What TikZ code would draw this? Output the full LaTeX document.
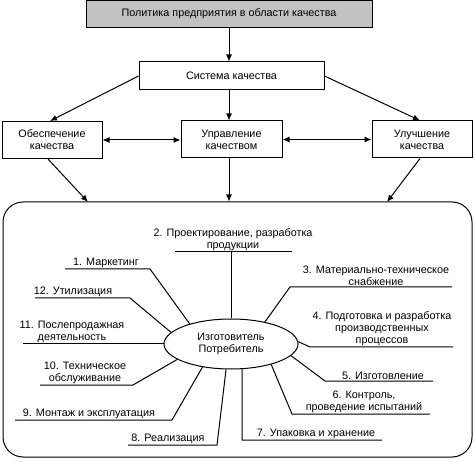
\documentclass[tikz,border=0pt]{standalone}
\usepackage{fontspec}
\setmainfont{Liberation Sans}
\usetikzlibrary{arrows.meta,shapes.geometric}
\begin{document}
\begin{tikzpicture}[x=1pt,y=-1pt, font=\fontsize{10.8}{12}\selectfont,
 box/.style={draw, line width=1pt, inner sep=0pt, align=center},
 arr/.style={-{Latex[length=7pt,width=6pt]}, line width=1pt},
 darr/.style={{Latex[length=7pt,width=6pt]}-{Latex[length=7pt,width=6pt]}, line width=1pt},
 spoke/.style={line width=1pt},
 lbl/.style={align=center, anchor=south, inner sep=1.5pt}]
\useasboundingbox (0,0) rectangle (474,462);
% top part
\node[box, fill=black!24, minimum width=286pt, minimum height=27pt] (P) at (229,14) {Политика предприятия в области качества};
\node[box, minimum width=185pt, minimum height=28pt] (S) at (231.5,76) {Система качества};
\node[box, minimum width=100pt, minimum height=37pt] (O) at (52,140) {Обеспечение\\качества};
\node[box, minimum width=101pt, minimum height=37pt] (U) at (231.5,139.5) {Управление\\качеством};
\node[box, minimum width=100pt, minimum height=37pt] (R) at (422,139.5) {Улучшение\\качества};
% frame and ellipse
\node[draw, rounded corners=20pt, minimum width=469pt, minimum height=255pt, line width=1pt] (F) at (237.5,329.5) {};
\node[draw, ellipse, minimum width=134pt, minimum height=50pt, inner sep=0pt, align=center, line width=1pt] (E) at (231,344) {Изготовитель\\Потребитель};
\coordinate (f1) at (88,202);
\coordinate (f3) at (387,202);
% arrows
\draw[arr] (P.south) -- (P.south |- S.north);
\draw[arr] (S.west) -- ([xshift=-2pt]O.north);
\draw[arr] (S.east) -- ([xshift=-2pt]R.north);
\draw[arr] (P.south |- S.south) -- (P.south |- U.north);
\draw[darr] (O.east) -- (O.east -| U.west);
\draw[darr] (U.east) -- (U.east -| R.west);
\draw[arr] ([xshift=-4pt]O.south) -- (f1);
\draw[arr] (P.south |- U.south) -- (P.south |- F.north);
\draw[arr] ([xshift=-2pt]R.south) -- (f3);
% spokes
\coordinate (a1) at (65,269); \coordinate (b1) at (150,269);
\draw[spoke] (a1) -- (b1) -- (E.154);
\node[lbl] (t1) at (106,269) {1. Маркетинг};
\coordinate (a2) at (175,252); \coordinate (b2) at (292,252);
\draw[spoke] (a2) -- (b2);
\draw[spoke] (E.north) -- (E.north |- a2);
\node[lbl] (t2) at (233,252) {2. Проектирование, разработка\\продукции};
\coordinate (a3) at (290,287); \coordinate (b3) at (452,287);
\draw[spoke] (E.33) -- (a3) -- (b3);
\node[lbl] (t3) at (376,287) {3. Материально-техническое\\снабжение};
\coordinate (a4) at (310,347); \coordinate (b4) at (453,347);
\draw[spoke] (E.2) -- (a4) -- (b4);
\node[lbl] (t4) at (382,347) {4. Подготовка и разработка\\производственных\\процессов};
\coordinate (a5) at (325,381); \coordinate (b5) at (433,381);
\draw[spoke] (E.-11) -- (a5) -- (b5);
\node[lbl] (t5) at (383,381) {5. Изготовление};
\coordinate (a6) at (292,414); \coordinate (b6) at (430,414);
\draw[spoke] (E.-27.5) -- (a6) -- (b6);
\node[lbl] (t6) at (364,414) {6. Контроль,\\проведение испытаний};
\coordinate (a7) at (242,440); \coordinate (b7) at (382,440);
\draw[spoke] (E.-66) -- (a7) -- (b7);
\node[lbl] (t7) at (316,440) {7. Упаковка и хранение};
\coordinate (a8) at (128,445); \coordinate (b8) at (217,445);
\draw[spoke] (a8) -- (b8) -- (E.-101);
\node[lbl] (t8) at (168,445) {8. Реализация};
\coordinate (a9) at (15,420); \coordinate (b9) at (172,420);
\draw[spoke] (a9) -- (b9) -- (E.-141);
\node[lbl] (t9) at (89,420) {9. Монтаж и эксплуатация};
\coordinate (a10) at (40,385); \coordinate (b10) at (133,385);
\draw[spoke] (a10) -- (b10) -- (E.-164);
\node[lbl] (t10) at (85,385) {10. Техническое\\обслуживание};
\coordinate (a11) at (23,344);
\draw[spoke] (a11) -- (E.west);
\node[lbl] (t11) at (72,344) {11. Послепродажная\\деятельность};
\coordinate (a12) at (35,298); \coordinate (b12) at (130,298);
\draw[spoke] (a12) -- (b12) -- (E.169);
\node[lbl] (t12) at (73,298) {12. Утилизация};
\end{tikzpicture}
\end{document}
